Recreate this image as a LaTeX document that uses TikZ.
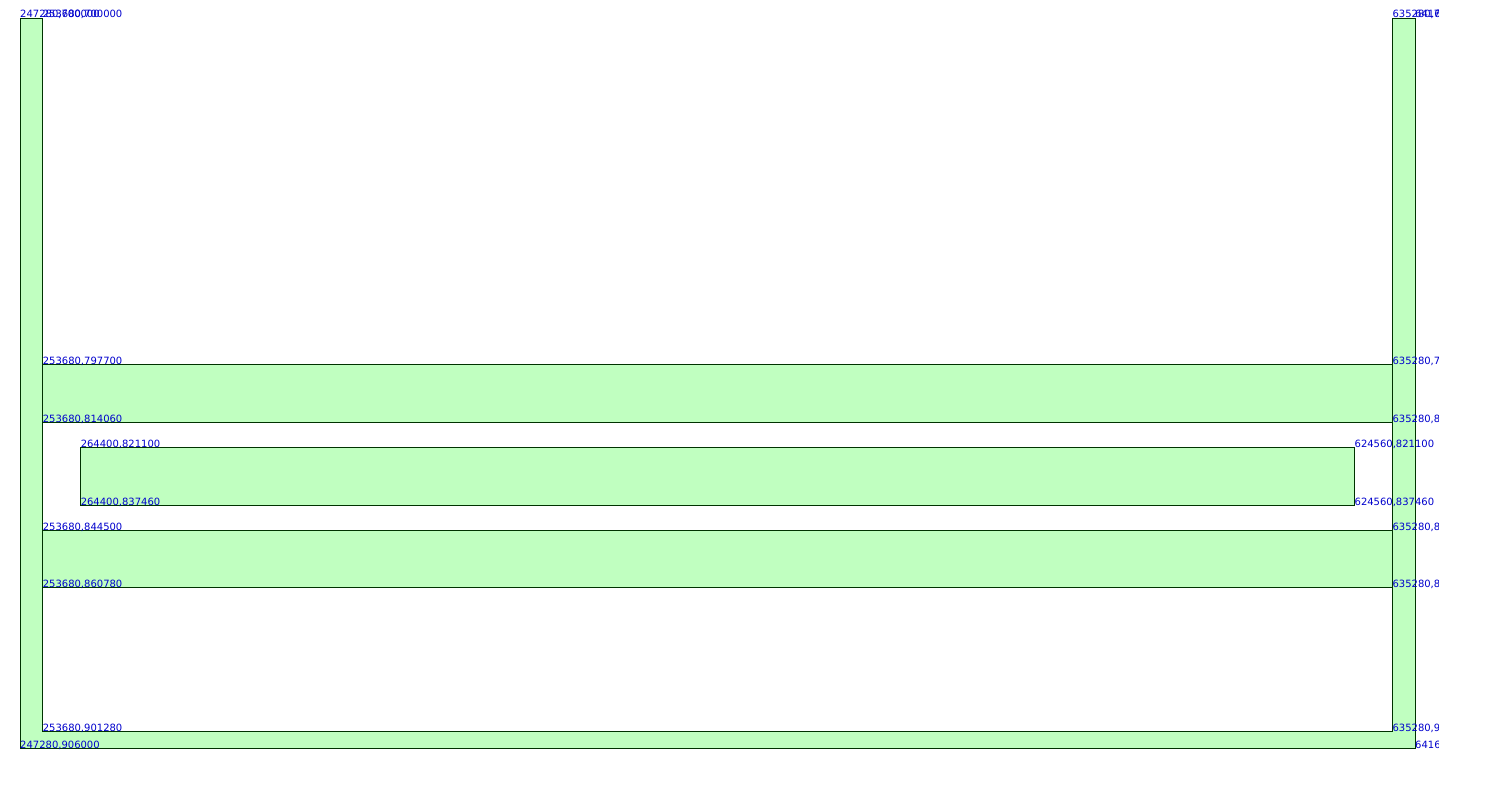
\documentclass[tikz,border=0pt]{standalone}
\usepackage{fontspec}
\setmainfont{DejaVu Sans}
\definecolor{fillg}{HTML}{C0FFC0}
\definecolor{edgeg}{HTML}{003300}
\definecolor{lblblue}{HTML}{0000CC}
\begin{document}
\begin{tikzpicture}[x=1pt,y=-1pt,
  shp/.style={fill=fillg,draw=edgeg,line width=0.9pt},
  lbl/.style={anchor=base west,inner sep=0pt,text=lblblue,font=\fontsize{10}{11}\selectfont}]
\useasboundingbox (0,0) rectangle (1499,805);
\clip (0,0) rectangle (1438,805);
\begin{scope}[shift={(20,18)},x=0.3537pt,y=-0.3544pt]
% outer U polygon
\draw[shp] (0,0) -- (64,0) -- (64,2012.8) -- (3880,2012.8) -- (3880,0) -- (3944,0) -- (3944,2060) -- (0,2060) -- cycle;
\draw[shp] (64,977) rectangle (3880,1140.6);
\draw[shp] (171.2,1211) rectangle (3772.8,1374.6);
\draw[shp] (64,1445) rectangle (3880,1607.8);
% labels outer
\node[lbl] (o1) at (0,0) {247280,700000};
\node[lbl] (o2) at (64,0) {253680,700000};
\node[lbl] (o3) at (64,2012.8) {253680,901280};
\node[lbl] (o4) at (3880,2012.8) {635280,901280};
\node[lbl] (o5) at (3880,0) {635280,700000};
\node[lbl] (o6) at (3944,0) {641680,700000};
\node[lbl] (o7) at (3944,2060) {641680,906000};
\node[lbl] (o8) at (0,2060) {247280,906000};
% band 1
\node[lbl] (a1) at (64,977) {253680,797700};
\node[lbl] (a2) at (3880,977) {635280,797700};
\node[lbl] (a3) at (64,1140.6) {253680,814060};
\node[lbl] (a4) at (3880,1140.6) {635280,814060};
% inner
\node[lbl] (b1) at (171.2,1211) {264400,821100};
\node[lbl] (b2) at (3772.8,1211) {624560,821100};
\node[lbl] (b3) at (171.2,1374.6) {264400,837460};
\node[lbl] (b4) at (3772.8,1374.6) {624560,837460};
% band 2
\node[lbl] (c1) at (64,1445) {253680,844500};
\node[lbl] (c2) at (3880,1445) {635280,844500};
\node[lbl] (c3) at (64,1607.8) {253680,860780};
\node[lbl] (c4) at (3880,1607.8) {635280,860780};
\end{scope}
\end{tikzpicture}
\end{document}
